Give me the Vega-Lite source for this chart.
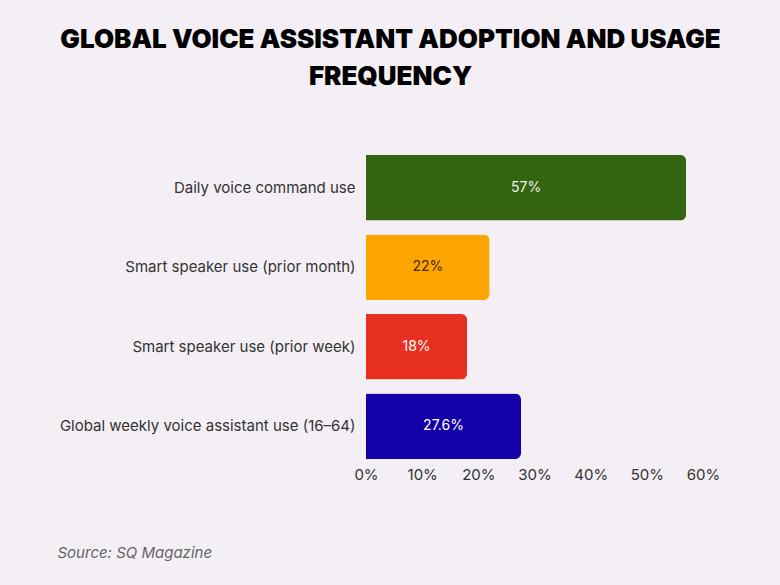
{
  "$schema": "https://vega.github.io/schema/vega-lite/v6.json",
  "autosize": {"type": "none"},
  "width": 337,
  "height": 320,
  "padding": {"left": 366, "right": 77, "top": 147, "bottom": 118},
  "background": "#f3eff4",
  "config": {"view": {"stroke": null}},
  "title": {
    "text": ["GLOBAL VOICE ASSISTANT ADOPTION AND USAGE", "FREQUENCY"],
    "font": "Inter",
    "fontWeight": 900,
    "fontSize": 26,
    "color": "#000000",
    "anchor": "middle",
    "frame": "group",
    "dx": -144,
    "offset": 57,
    "lineHeight": 37
  },
  "data": {
    "values": [
      {"category": "Daily voice command use", "value": 57, "label": "57%", "color": "#33640f", "textColor": "#f0f0e8"},
      {"category": "Smart speaker use (prior month)", "value": 22, "label": "22%", "color": "#ffa502", "textColor": "#4a2600"},
      {"category": "Smart speaker use (prior week)", "value": 18, "label": "18%", "color": "#e83020", "textColor": "#ffffff"},
      {"category": "Global weekly voice assistant use (16–64)", "value": 27.6, "label": "27.6%", "color": "#1400a8", "textColor": "#ffffff"}
    ]
  },
  "transform": [{"calculate": "datum.value / 2", "as": "mid"}],
  "encoding": {
    "y": {
      "field": "category",
      "type": "nominal",
      "sort": null,
      "scale": {"paddingInner": 0.175, "paddingOuter": 0.1},
      "axis": {
        "title": null,
        "domain": false,
        "ticks": false,
        "labelPadding": 11,
        "labelFont": "Inter",
        "labelFontSize": 15,
        "labelColor": "#333333",
        "labelLimit": 400
      }
    }
  },
  "layer": [
    {
      "mark": {"type": "bar", "cornerRadiusEnd": 6},
      "encoding": {
        "x": {
          "field": "value",
          "type": "quantitative",
          "scale": {"domain": [0, 60], "nice": false},
          "axis": {
            "values": [0, 10, 20, 30, 40, 50, 60],
            "labelExpr": "datum.value + '%'",
            "labelFlush": false,
            "grid": false,
            "domain": false,
            "ticks": false,
            "labelPadding": 0,
            "labelFont": "Inter",
            "labelFontSize": 15,
            "labelColor": "#333333",
            "title": "Source: SQ Magazine",
            "titleFont": "Inter",
            "titleFontStyle": "italic",
            "titleFontWeight": "normal",
            "titleFontSize": 15,
            "titleColor": "#666666",
            "titleAnchor": "start",
            "titleAlign": "left",
            "titleBaseline": "middle",
            "titleX": -309,
            "titleY": 85
          }
        },
        "color": {"field": "color", "type": "nominal", "scale": null, "legend": null}
      }
    },
    {
      "mark": {"type": "text", "font": "Inter", "fontSize": 14, "align": "center", "baseline": "middle"},
      "encoding": {
        "x": {"field": "mid", "type": "quantitative"},
        "text": {"field": "label"},
        "color": {"field": "textColor", "type": "nominal", "scale": null, "legend": null}
      }
    }
  ]
}
